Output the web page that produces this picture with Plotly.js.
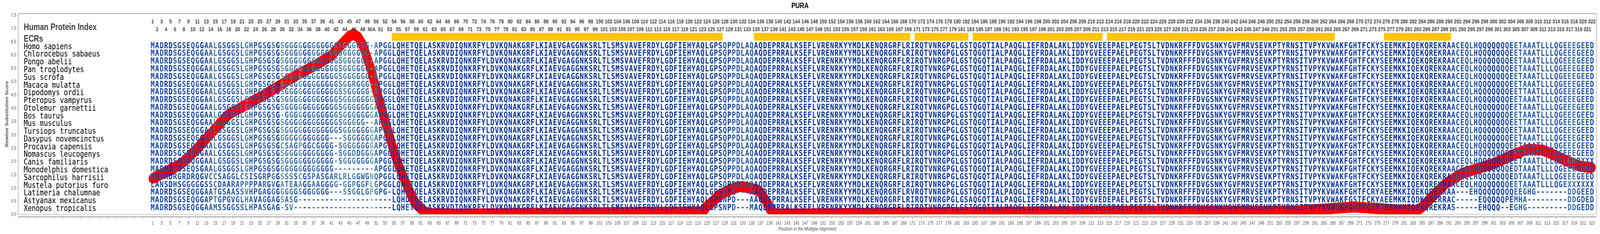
<!DOCTYPE html>
<html><head><meta charset="utf-8">
<script src="https://cdn.plot.ly/plotly-3.0.1.min.js"></script>
<style>html,body{margin:0;padding:0;background:#fff;overflow:hidden}#chart{transform-origin:0 0}</style>
</head><body>
<div id="chart" style="width:5265px;height:600px"></div>
<script>
const chartTitle = 'PURA';
const xTitle = 'Position in the Multiple Alignment';
const yTitle = 'Relative Substitution Score';
const headerLabel = 'Human Protein Index';
const ecrLabel = 'ECRs';

const species = ['Homo sapiens','Chlorocebus sabaeus','Pongo abelii','Pan troglodytes','Sus scrofa',
  'Macaca mulatta','Dipodomys ordii','Pteropus vampyrus','Otolemur garnettii','Bos taurus',
  'Mus musculus','Tursiops truncatus','Dasypus novemcinctus','Procavia capensis','Nomascus leucogenys',
  'Canis familiaris','Monodelphis domestica','Sarcophilus harrisii','Mustela putorius furo',
  'Latimeria chalumnae','Astyanax mexicanus','Xenopus tropicalis'];

// Human row of the alignment (323 columns, '-' = gap)
const humanAligned = 'MADRDSGSEQ'+'GGAALGSGGS'+'LGHPGSGSGS'+'GGGGGGGGGG'+'GGSGGGGGG'+'-'+'A'+
  'PGGLQHETQE'+'LASKRVDIQN'+'KRFYLDVKQN'+'AKGRFLKIAE'+'VGAGGNKSRL'+'TLSMSVAVEF'+'RDYLGDFIEH'+
  'YAQLGPSQPP'+'DLAQAQDEPR'+'RALKSEFLVR'+'ENRKYYMDLK'+'ENQRGRFLRI'+'RQTVNRGPGL'+'GSTQGQTIAL'+
  'PAQGLIEFRD'+'ALAKLIDDYG'+'VEEEPAELPE'+'GTSLTVDNKR'+'FFFDVGSNKY'+'GVFMRVSEVK'+'PTYRNSITVP'+
  'YKVWAKFGHT'+'FCKYSEEMKK'+'IQEKQREKRA'+'ACEQLHQQQQ'+'QQQEETAAAT'+'LLLQGEEEGE'+'ED';

// Differences of each species from the human row: [alignment position, residues]
const speciesVariants = [
  [], [], [], [], [],
  [[46,'R']],
  [[44,'S'],[308,'T']],
  [[50,'G']],
  [[50,'G']],
  [[30,'-'],[50,'G']],
  [[49,'-'],[308,'T']],
  [[50,'G']],
  [[30,'GGGGGGGGGGG'+'---'+'S'+'GGGGGG']],
  [[30,'CSAGPGGCGGGG'+'-'+'S'+'GGGGGGG']],
  [[30,'S'+'GGGGGGGGGGG'+'-'+'SGGDDGGG']],
  [[30,'S'+'GGGGGGGGGGG'+'-'+'S'+'GGGGGGG'],[317,'LGRRXXX']],
  [[11,'S'],[30,'GGGGGGGGGGGG'+'---------'],[306,'D']],
  [[1,'XRGRDRGRDR'+'QGVCCSAGGL'+'CSISGRPGGS'+'SSSCGSPASG'+'ARLRLGGWGN'+'Q'],[306,'D']],
  [[1,'LANSDHSGGGGGSSCDAARAPPPPARG'+'VG'+'ATEAAGGAAGGGG'+'-'+'GGPGGFLG'],[318,'XXXXXX']],
  [[15,'TGSAASSVHP'+'GAGGGGGGGS'+'GGGGGG'+'---'+'SSGGLGPGPG'+'-'],[58,'D'],[129,'NPE---AA'],[171,'V'],
   [274,'R'],[276,'A'],[293,'---'+'EHQQQQQQQQEEGHG'+'-------'+'DDGEED']],
  [[13,'APTGPGVGLH'+'AVAGGAGSAS'+'G'+'----------'+'----------'+'-'],[58,'D'],[129,'NPD---AA'],[184,'A'],
   [214,'D'],[270,'S'],[276,'A'],[284,'D'],[289,'R'],[292,'C'+'-----'+'EQQQQQPEMHA'+'---------'+'DDGDED']],
  [[15,'MSSGGSSLHP'+'ASGAG'+'-'+'SV'+'----------'+'----------'+'--'],[129,'NPD---MA'],[266,'G'],[276,'A'],
   [292,'S'+'-----'+'EHQQQ--EGHG'+'---------'+'DDGEDD']]
];

// Evolutionarily conserved regions (alignment positions, inclusive)
const ecrStart = [55, 136, 172, 185, 215, 277];
const ecrEnd   = [128, 170, 183, 213, 265, 291];

// Relative substitution score per alignment column (1..323)
const scores = [
 1.35,1.42,1.50,1.57,1.64,1.75,1.87,1.99,2.12,2.30,
 2.48,2.67,2.86,3.05,3.25,3.45,3.62,3.76,3.86,3.94,
 4.01,4.10,4.20,4.30,4.40,4.50,4.60,4.68,4.78,4.90,
 5.03,5.14,5.24,5.33,5.41,5.49,5.57,5.65,5.74,5.85,
 5.98,6.16,6.36,6.55,6.70,6.78,6.66,6.38,5.95,5.39,
 4.71,4.04,3.42,2.86,2.35,1.85,1.40,1.00,0.66,0.38,
 0.19,0.09,0.04,0.02,0.02,0.02,0.02,0.02,0.02,0.02,
 0.02,0.02,0.02,0.02,0.02,0.02,0.02,0.02,0.02,0.02,
 0.02,0.02,0.02,0.02,0.02,0.02,0.02,0.02,0.02,0.02,
 0.02,0.02,0.02,0.02,0.02,0.02,0.02,0.02,0.02,0.02,
 0.02,0.02,0.02,0.02,0.02,0.02,0.02,0.02,0.02,0.02,
 0.02,0.02,0.02,0.02,0.02,0.02,0.02,0.02,0.02,0.02,
 0.02,0.02,0.03,0.10,0.30,0.48,0.62,0.74,0.84,0.94,
 1.01,1.04,1.05,1.03,0.99,0.94,0.83,0.56,0.20,0.04,
 0.02,0.02,0.02,0.02,0.02,0.02,0.02,0.02,0.02,0.03,
 0.03,0.03,0.03,0.04,0.04,0.04,0.04,0.04,0.04,0.04,
 0.04,0.04,0.04,0.04,0.04,0.04,0.03,0.03,0.03,0.03,
 0.03,0.03,0.03,0.03,0.03,0.03,0.03,0.03,0.03,0.03,
 0.03,0.03,0.03,0.03,0.03,0.03,0.03,0.03,0.03,0.03,
 0.03,0.03,0.03,0.03,0.03,0.03,0.03,0.03,0.03,0.03,
 0.03,0.03,0.03,0.04,0.04,0.05,0.06,0.07,0.08,0.10,
 0.11,0.12,0.12,0.13,0.13,0.13,0.13,0.12,0.11,0.10,
 0.08,0.07,0.06,0.05,0.04,0.03,0.03,0.03,0.03,0.03,
 0.03,0.03,0.03,0.03,0.03,0.03,0.03,0.03,0.03,0.03,
 0.03,0.03,0.03,0.03,0.04,0.04,0.05,0.05,0.06,0.06,
 0.07,0.08,0.09,0.10,0.11,0.12,0.13,0.15,0.17,0.18,
 0.19,0.20,0.21,0.22,0.23,0.24,0.25,0.26,0.27,0.28,
 0.28,0.28,0.27,0.26,0.25,0.23,0.21,0.19,0.17,0.15,
 0.14,0.13,0.13,0.16,0.28,0.47,0.65,0.83,0.98,1.12,
 1.24,1.36,1.48,1.55,1.60,1.64,1.69,1.74,1.79,1.84,
 1.91,1.99,2.07,2.16,2.25,2.31,2.37,2.42,2.45,2.46,
 2.45,2.42,2.35,2.27,2.18,2.09,2.01,1.94,1.88,1.83,
 1.80,1.77,1.76
];

// ---------- fit the 5265-wide design into the actual window ----------
const DESIGN_W = 5265, DESIGN_H = 600;
const chartDiv = document.getElementById('chart');
const sx = Math.min(1, (window.innerWidth || DESIGN_W) / DESIGN_W);
const sy = Math.min(1, (window.innerHeight || DESIGN_H) / DESIGN_H);
chartDiv.style.transform = 'scale(' + sx + ',' + sy + ')';

// ---------- build ----------
const N = humanAligned.length;
if (N !== 323) throw new Error('human length ' + N);
if (scores.length !== N) throw new Error('scores length ' + scores.length);
const rows = speciesVariants.map((edits, si) => {
  const a = humanAligned.split('');
  edits.forEach(([p, s]) => {
    if (p - 1 + s.length > N) throw new Error('edit overflow ' + species[si] + ' ' + p);
    for (let k = 0; k < s.length; k++) a[p - 1 + k] = s[k];
  });
  return a;
});
const positions = Array.from({length: N}, (_, i) => i + 1);

// column colour from the diversity (entropy) of the column
const stops = [[0,[6,52,156]],[0.5,[26,78,166]],[1.0,[52,104,170]],[1.3,[72,128,170]],
               [1.6,[104,162,164]],[1.9,[140,196,156]],[2.6,[170,214,160]]];
function entColor(h) {
  if (h <= stops[0][0]) return 'rgb(' + stops[0][1].join(',') + ')';
  for (let i = 1; i < stops.length; i++) {
    if (h <= stops[i][0]) {
      const t = (h - stops[i-1][0]) / (stops[i][0] - stops[i-1][0]);
      const c = stops[i-1][1].map((v, k) => Math.round(v + t * (stops[i][1][k] - v)));
      return 'rgb(' + c.join(',') + ')';
    }
  }
  return 'rgb(' + stops[stops.length-1][1].join(',') + ')';
}
const colColors = positions.map((p) => {
  const cnt = {};
  rows.forEach(r => { cnt[r[p-1]] = (cnt[r[p-1]] || 0) + 1; });
  let h = 0;
  Object.values(cnt).forEach(c => { const q = c / rows.length; h -= q * Math.log2(q); });
  return entColor(h);
});

// human protein index labels
let hi = 0;
const hIndex = humanAligned.split('').map(c => c === '-' ? 'N/A' : String(++hi));

// layout helpers (pixel-derived placement)
const rowY0 = 6.330, rowStep = 0.2898;
const rowYs = species.map((_, i) => rowY0 - i * rowStep);
const idxYTop = 7.235, idxYBot = 6.943, ecrY = 6.68;

const traces = [];
// ECR bars as thick horizontal segments on the ECR row
const ecrX = [], ecrYv = [];
ecrStart.forEach((s, i) => { ecrX.push(s - 0.5, ecrEnd[i] + 0.5, null); ecrYv.push(ecrY, ecrY, null); });
traces.push({type: 'scatter', mode: 'lines', x: ecrX, y: ecrYv, connectgaps: false,
  line: {color: '#ffc600', width: 20}, hoverinfo: 'skip', showlegend: false});
traces.push({
  type: 'scatter', mode: 'lines+markers', x: positions, y: scores,
  line: {color: '#ff0000', width: 28}, marker: {color: '#ff0000', size: 26},
  hoverinfo: 'skip', showlegend: false
});
const oddPos = positions.filter(p => p % 2 === 1), evenPos = positions.filter(p => p % 2 === 0);
const idxFont = {family: 'Liberation Sans Narrow, Arial Narrow, Liberation Sans, Arial, sans-serif', size: 15, color: '#444', weight: 'bold'};
traces.push({type:'scatter', mode:'text', x: oddPos, y: oddPos.map(() => idxYTop),
  text: oddPos.map(p => hIndex[p-1]), textposition: 'middle center', textfont: idxFont,
  hoverinfo:'skip', showlegend:false, cliponaxis:false});
traces.push({type:'scatter', mode:'text', x: evenPos, y: evenPos.map(() => idxYBot),
  text: evenPos.map(p => hIndex[p-1]), textposition: 'middle center', textfont: idxFont,
  hoverinfo:'skip', showlegend:false, cliponaxis:false});
rows.forEach((r, i) => {
  traces.push({type:'scatter', mode:'text', x: positions, y: positions.map(() => rowYs[i]),
    text: r, textposition: 'middle center',
    textfont: {family: 'DejaVu Sans Mono, monospace', size: 22, weight: 'bold', color: colColors},
    hoverinfo:'skip', showlegend:false, cliponaxis:false});
});

const annotations = species.map((s, i) => ({
  x: -28.0, y: rowYs[i], xref: 'x', yref: 'y', text: s, showarrow: false,
  xanchor: 'left', yanchor: 'middle', align: 'left',
  font: {family: 'DejaVu Sans Mono, monospace', size: 22, color: '#000'}
}));
annotations.push({x: -28.0, y: 7.057, xref:'x', yref:'y', text: headerLabel, showarrow:false,
  xanchor:'left', yanchor:'middle', font:{family:'Liberation Sans, Arial, sans-serif', size:24, color:'#444', weight:'bold'}});
annotations.push({x: -28.0, y: 6.623, xref:'x', yref:'y', text: ecrLabel, showarrow:false,
  xanchor:'left', yanchor:'middle', font:{family:'Liberation Sans, Arial, sans-serif', size:24, color:'#444', weight:'bold'}});

const tickVals = [];
for (let v = -29; v <= 323; v += 2) tickVals.push(v);

const shapes = [
  {type: 'line', xref: 'paper', yref: 'paper', x0: 0, x1: 1, y0: 1, y1: 1, line: {color: '#888', width: 1.5}},
  {type: 'line', xref: 'paper', yref: 'y', x0: 0, x1: 1, y0: 0, y1: 0, line: {color: '#888', width: 1.5}}
];

const layout = {
  width: DESIGN_W, height: DESIGN_H,
  margin: {l: 61, r: 12, t: 35, b: 45},
  paper_bgcolor: '#fff', plot_bgcolor: '#fff',
  showlegend: false, hovermode: false,
  title: {text: '<b>' + chartTitle + '</b>', x: 0.5, xanchor: 'center', y: 1 - 14/600, yanchor: 'middle',
          font: {family: 'Liberation Sans, Arial, sans-serif', size: 20, color: '#000'}},
  xaxis: {range: [-29, 324], tickmode: 'array', tickvals: tickVals,
          ticktext: tickVals.map(v => v >= 1 ? String(v) : ''),
          ticks: 'outside', ticklen: 5, tickcolor: '#999', showline: true, linecolor: '#999', linewidth: 1.5,
          showgrid: false, zeroline: false, anchor: 'free', position: 0,
          tickfont: {family: 'Liberation Sans, Arial, sans-serif', size: 12, color: '#555'},
          title: {text: xTitle, standoff: 2, font: {family: 'Liberation Sans, Arial, sans-serif', size: 13, color: '#555'}}},
  yaxis: {range: [0, 7.55], domain: [5/520, 1], dtick: 0.5, tick0: 0, tickformat: '.1f',
          ticks: 'outside', ticklen: 4, tickcolor: '#999', showline: true, mirror: true,
          linecolor: '#888', linewidth: 1.5, showgrid: false, zeroline: false,
          tickfont: {family: 'Liberation Sans, Arial, sans-serif', size: 12, color: '#555'},
          title: {text: yTitle, standoff: 6, font: {family: 'Liberation Sans, Arial, sans-serif', size: 13, color: '#555', weight: 'bold'}}},
  shapes: shapes,
  annotations: annotations
};

Plotly.newPlot('chart', traces, layout, {displayModeBar: false, staticPlot: true});
</script>
</body></html>
